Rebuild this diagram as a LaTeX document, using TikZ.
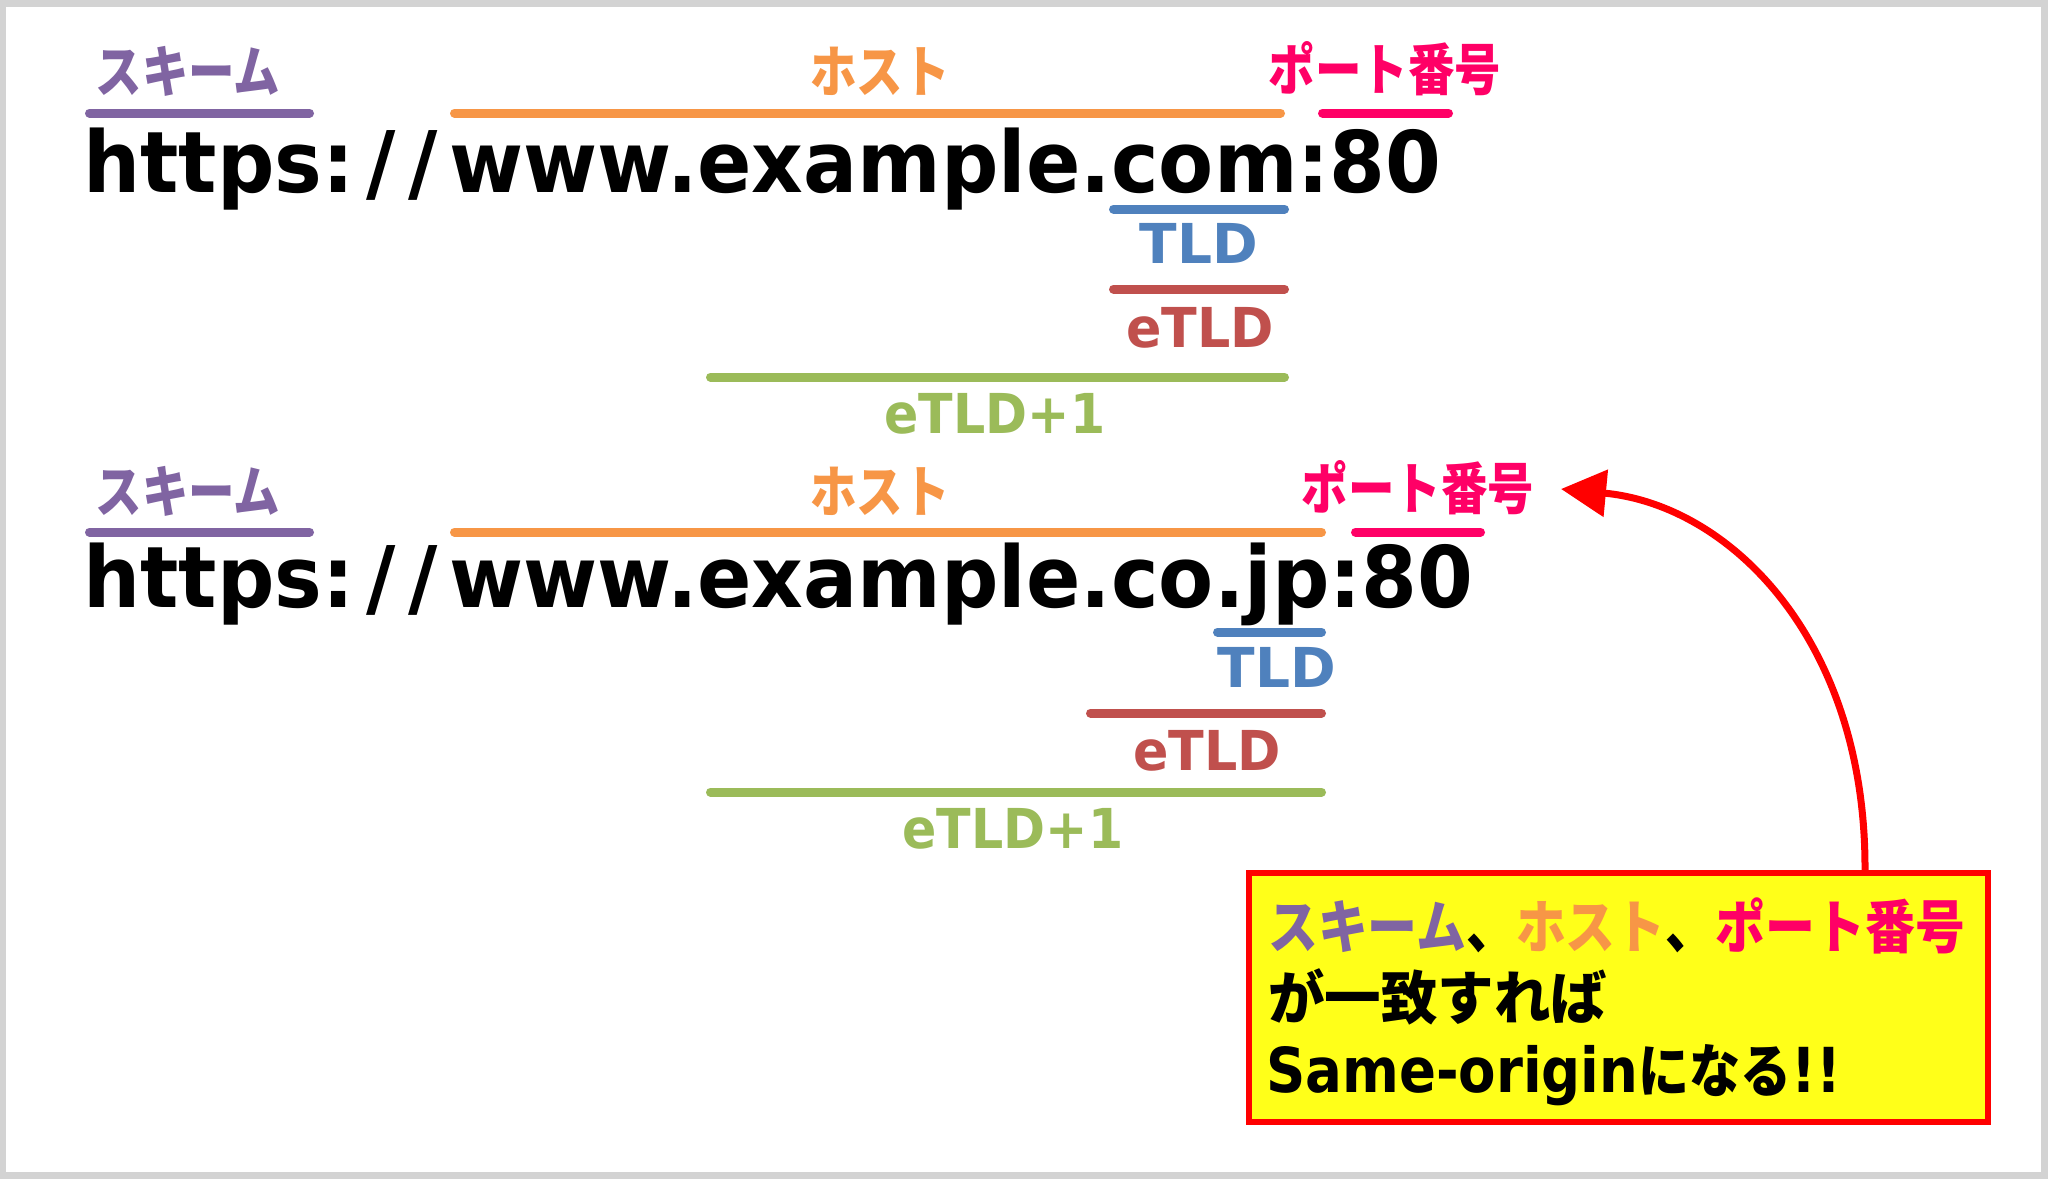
\documentclass[tikz,border=0pt]{standalone}
\usepackage{fontspec}
\setmainfont{DejaVu Sans}
\newfontfamily\jp{Noto Sans CJK JP}
\usetikzlibrary{arrows.meta}
\definecolor{cpur}{HTML}{8064A2}
\definecolor{cora}{HTML}{F79646}
\definecolor{cpink}{HTML}{FF0066}
\definecolor{cblue}{HTML}{4F81BD}
\definecolor{cred}{HTML}{C0504D}
\definecolor{cgreen}{HTML}{9BBB59}
\definecolor{cframe}{HTML}{D3D3D3}
\definecolor{cyel}{HTML}{FFFF19}
\newcommand\fs[1]{\fontsize{#1}{#1}\selectfont}
\newcommand\urlslash{\kern13pt/}
\tikzset{
  url/.style={anchor=base west, inner sep=0pt, font=\bfseries\fs{85}},
  jplab/.style={inner sep=0pt, font=\jp\bfseries\fs{56}},
  latlab/.style={inner sep=0pt, anchor=base, font=\bfseries\fs{55}},
  uline/.style={line width=9pt, line cap=round},
  boxtxt/.style={inner sep=0pt, anchor=base west},
}
\begin{document}
\begin{tikzpicture}[x=1pt,y=-1pt]
\fill[cframe] (0,0) rectangle (2048,1179);
\fill[white] (6,7) rectangle (2041,1172);
\useasboundingbox (0,0) rectangle (2048,1179);

% ---- block 1
\node[jplab, text=cpur] (sc1) at (188,71) {\scalebox{0.83}[1]{スキーム}};
\node[jplab, text=cora] (ho1) at (880,71) {\scalebox{0.83}[1]{ホスト}};
\node[jplab, text=cpink] (po1) at (1385,69) {\scalebox{0.83}[1]{ポート番号}};
\draw[uline, cpur] (89.5,113) -- (309.5,113);
\draw[uline, cora] (454.5,113) -- (1280.5,113);
\draw[uline, cpink] (1322.5,113) -- (1448.5,113);
\node[url] (u1) at (83,192) {\scalebox{0.944}[1]{https:\urlslash\urlslash\kern13pt www.example.com:80}};
\draw[uline, cblue] (1113.5,209) -- (1284.5,209);
\node[latlab, text=cblue] (tld1) at (1199,263) {TLD};
\draw[uline, cred] (1113.5,289) -- (1284.5,289);
\node[latlab, text=cred] (etld1) at (1200,347) {\scalebox{0.95}[1]{eTLD}};
\draw[uline, cgreen] (710.5,377) -- (1284.5,377);
\node[latlab, text=cgreen] (ep1) at (995,433) {\scalebox{0.92}[1]{eTLD+1}};

% ---- block 2
\node[jplab, text=cpur] (sc2) at (188,491) {\scalebox{0.83}[1]{スキーム}};
\node[jplab, text=cora] (ho2) at (880,491) {\scalebox{0.83}[1]{ホスト}};
\node[jplab, text=cpink] (po2) at (1418,488) {\scalebox{0.83}[1]{ポート番号}};
\draw[uline, cpur] (89.5,532) -- (309.5,532);
\draw[uline, cora] (454.5,532) -- (1321.5,532);
\draw[uline, cpink] (1355.5,532) -- (1480.5,532);
\node[url] (u2) at (83,607) {\scalebox{0.944}[1]{https:\urlslash\urlslash\kern13pt www.example.co.jp:80}};
\draw[uline, cblue] (1217.5,632) -- (1321.5,632);
\node[latlab, text=cblue] (tld2) at (1277,687) {TLD};
\draw[uline, cred] (1090.5,713) -- (1321.5,713);
\node[latlab, text=cred] (etld2) at (1207,770) {\scalebox{0.95}[1]{eTLD}};
\draw[uline, cgreen] (710.5,792) -- (1321.5,792);
\node[latlab, text=cgreen] (ep2) at (1013,848) {\scalebox{0.92}[1]{eTLD+1}};

% ---- callout box
\node[draw=red, fill=cyel, line width=6pt, inner sep=0pt, minimum width=739pt, minimum height=249pt] (box) at (1618.5,997.5) {};
\node[boxtxt] (bl1) at (1268,948) {\scalebox{0.86}[1]{\jp\bfseries\fs{58}\textcolor{cpur}{スキーム}、\textcolor{cora}{ホスト}、\textcolor{cpink}{ポート番号}}};
\node[boxtxt] (bl2) at (1268,1019) {\scalebox{0.975}[1]{\jp\bfseries\fs{58}が一致すれば}};
\node[boxtxt] (bl3) at (1266,1092) {\scalebox{0.88}[1]{\bfseries\fs{62}Same-origin{\jp\fs{58}になる}!!}};

% ---- arrow
\coordinate (as) at (1865,870);
\coordinate (tip) at (1561,489);
\draw[red, line width=7pt, -{Triangle[length=45pt,width=46pt]}] (as) .. controls (1866,640) and (1730,505) .. (tip);
\end{tikzpicture}
\end{document}
